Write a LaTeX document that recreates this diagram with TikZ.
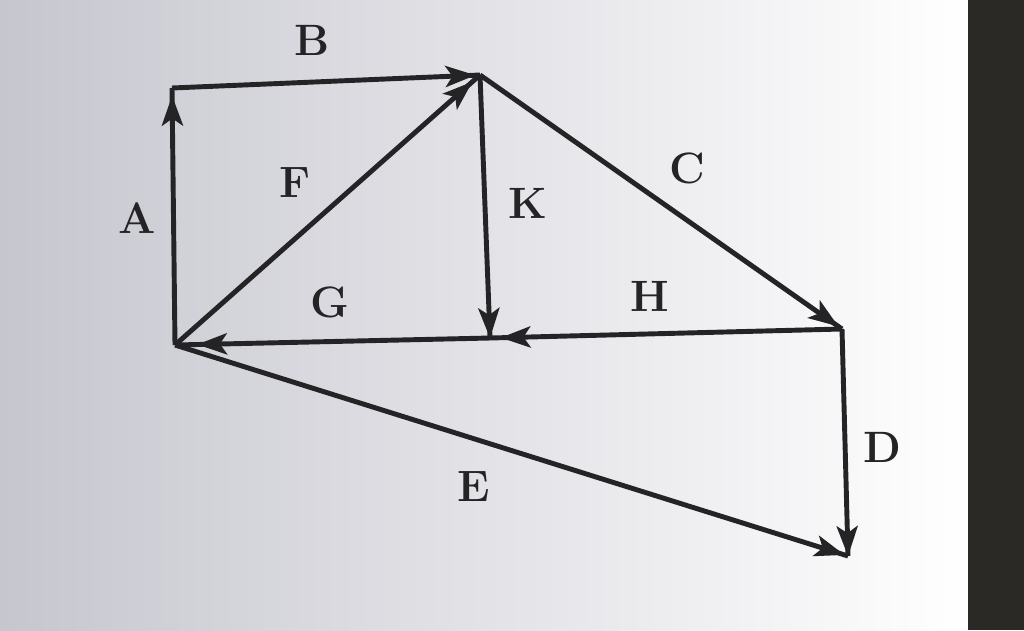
\documentclass[tikz,border=0pt]{standalone}
\usetikzlibrary{arrows.meta,decorations.markings}
\definecolor{ink}{HTML}{242426}
\definecolor{paper}{HTML}{C6C6CF}
\definecolor{edge}{HTML}{2A2925}
\tikzset{
  vec/.style={draw=ink, line width=2.8pt, postaction={decorate},
    decoration={markings, mark=at position #1 with {\arrow{Stealth[length=17pt,width=12pt,inset=4pt]}}}},
  vec/.default=1,
  lbl/.style={text=ink, font=\fontsize{25}{29}\selectfont\bfseries}
}
\begin{document}
\begin{tikzpicture}[x=0.02cm, y=-0.02cm]
\useasboundingbox (0,0) rectangle (1024,630);
\shade [left color=paper, right color=white] (0,0) rectangle (968,630);
\fill [edge] (968,0) rectangle (1024,630);
% corners of the figure
\coordinate (o) at (175,345);
\coordinate (tl) at (172,88);
\coordinate (t) at (480,75);
\coordinate (r) at (842,329);
\coordinate (br) at (848,556);
\coordinate (m) at (490,338);
% vectors
\draw [vec=.97] (o)--(tl);
\draw [vec=.985] (tl)--(t);
\draw [vec=.975] (o)--(t);
\draw [vec=.99] (t)--(r);
\draw [vec] (t)--(m);
\draw [vec=.97] (r)--(m);
\draw [vec=.93] (m)--(o);
\draw [vec] (r)--(br);
\draw [vec=.995] (o)--(br);
% labels
\node [lbl] (la) at (137,218) {A};
\node [lbl] (lb) at (312,40) {B};
\node [lbl] (lc) at (687,168) {C};
\node [lbl] (ld) at (882,447) {D};
\node [lbl] (le) at (474,487) {E};
\node [lbl] (lf) at (295,183) {F};
\node [lbl] (lg) at (330,302) {G};
\node [lbl] (lh) at (650,296) {H};
\node [lbl] (lk) at (528,203) {K};
\end{tikzpicture}
\end{document}
